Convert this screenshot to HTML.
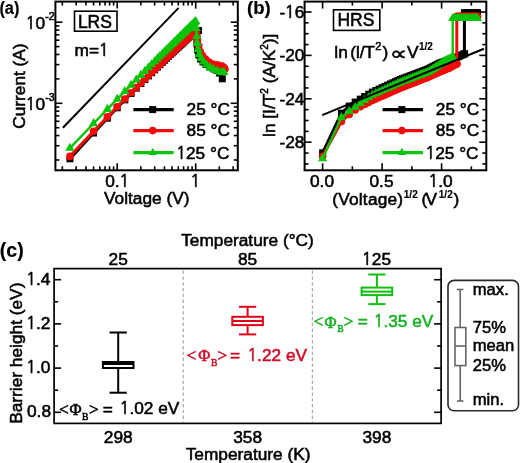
<!DOCTYPE html>
<html><head><meta charset="utf-8"><style>
html,body{margin:0;padding:0;background:#fff;overflow:hidden;}
svg{display:block;font-family:"Liberation Sans", Arial, sans-serif;filter:blur(0.4px);}
text{stroke:#000;stroke-width:0.55px;}
</style></head><body>
<svg width="520" height="463" viewBox="0 0 520 463">
<rect width="520" height="463" fill="#fff"/>
<line x1="62.9" y1="127.8" x2="178.6" y2="7.9" stroke="#000" stroke-width="2" />
<polyline points="69.94,158.8 93.57,133.02 107.39,118.18 117.2,107.81 124.81,99.88 131.02,93.49 136.28,88.13 140.83,83.54 144.85,79.51 148.44,75.94 151.69,72.73 154.65,69.81 157.38,67.14 159.91,64.67 162.26,62.39 164.46,60.26 166.53,58.26 168.48,56.39 170.32,54.61 172.07,52.94 173.73,51.35 175.32,49.83 176.83,48.38 178.28,47 179.68,45.68 181.01,44.41 182.3,43.18 183.54,42.01 184.74,40.87 185.89,39.78 187.01,38.72 188.09,37.69 189.14,36.7 190.16,35.74 191.15,34.8 192.11,33.9 193.04,33.01 193.95,32.15 194.84,31.32 195.7,30.5 198.5,30.5 197,38 197,44 197.6,50 198.8,55 200.6,59 203,62 206,64.5 210,67 214,69 217,70.5 219.5,73 222.3,78.8" fill="none" stroke="#000" stroke-width="3.0" stroke-linejoin="round"/>
<g><rect x="66.44" y="155.3" width="7" height="7" fill="#000"/><rect x="90.07" y="129.52" width="7" height="7" fill="#000"/><rect x="103.89" y="114.68" width="7" height="7" fill="#000"/><rect x="113.7" y="104.31" width="7" height="7" fill="#000"/><rect x="121.31" y="96.38" width="7" height="7" fill="#000"/><rect x="127.52" y="89.99" width="7" height="7" fill="#000"/><rect x="132.78" y="84.63" width="7" height="7" fill="#000"/><rect x="137.33" y="80.04" width="7" height="7" fill="#000"/><rect x="141.35" y="76.01" width="7" height="7" fill="#000"/><rect x="144.94" y="72.44" width="7" height="7" fill="#000"/><rect x="148.19" y="69.23" width="7" height="7" fill="#000"/><rect x="151.15" y="66.31" width="7" height="7" fill="#000"/><rect x="153.88" y="63.64" width="7" height="7" fill="#000"/><rect x="156.41" y="61.17" width="7" height="7" fill="#000"/><rect x="158.76" y="58.89" width="7" height="7" fill="#000"/><rect x="160.96" y="56.76" width="7" height="7" fill="#000"/><rect x="163.03" y="54.76" width="7" height="7" fill="#000"/><rect x="164.98" y="52.89" width="7" height="7" fill="#000"/><rect x="166.82" y="51.11" width="7" height="7" fill="#000"/><rect x="168.57" y="49.44" width="7" height="7" fill="#000"/><rect x="170.23" y="47.85" width="7" height="7" fill="#000"/><rect x="171.82" y="46.33" width="7" height="7" fill="#000"/><rect x="173.33" y="44.88" width="7" height="7" fill="#000"/><rect x="174.78" y="43.5" width="7" height="7" fill="#000"/><rect x="176.18" y="42.18" width="7" height="7" fill="#000"/><rect x="177.51" y="40.91" width="7" height="7" fill="#000"/><rect x="178.8" y="39.68" width="7" height="7" fill="#000"/><rect x="180.04" y="38.51" width="7" height="7" fill="#000"/><rect x="181.24" y="37.37" width="7" height="7" fill="#000"/><rect x="182.39" y="36.28" width="7" height="7" fill="#000"/><rect x="183.51" y="35.22" width="7" height="7" fill="#000"/><rect x="184.59" y="34.19" width="7" height="7" fill="#000"/><rect x="185.64" y="33.2" width="7" height="7" fill="#000"/><rect x="186.66" y="32.24" width="7" height="7" fill="#000"/><rect x="187.65" y="31.3" width="7" height="7" fill="#000"/><rect x="188.61" y="30.4" width="7" height="7" fill="#000"/><rect x="189.54" y="29.51" width="7" height="7" fill="#000"/><rect x="190.45" y="28.65" width="7" height="7" fill="#000"/><rect x="191.34" y="27.82" width="7" height="7" fill="#000"/><rect x="192.2" y="27" width="7" height="7" fill="#000"/><rect x="195" y="27" width="7" height="7" fill="#000"/><rect x="193.5" y="34.5" width="7" height="7" fill="#000"/><rect x="193.5" y="40.5" width="7" height="7" fill="#000"/><rect x="194.1" y="46.5" width="7" height="7" fill="#000"/><rect x="195.3" y="51.5" width="7" height="7" fill="#000"/><rect x="197.1" y="55.5" width="7" height="7" fill="#000"/><rect x="199.5" y="58.5" width="7" height="7" fill="#000"/><rect x="202.5" y="61" width="7" height="7" fill="#000"/><rect x="206.5" y="63.5" width="7" height="7" fill="#000"/><rect x="210.5" y="65.5" width="7" height="7" fill="#000"/><rect x="213.5" y="67" width="7" height="7" fill="#000"/><rect x="216" y="69.5" width="7" height="7" fill="#000"/><rect x="218.8" y="75.3" width="7" height="7" fill="#000"/></g>
<polyline points="69.94,156.4 93.57,131.35 107.39,116.89 117.2,106.77 124.81,99.02 131.02,92.75 136.28,87.5 140.83,82.98 144.85,79.02 148.44,75.5 151.69,72.33 154.65,69.45 157.38,66.82 159.91,64.38 162.26,62.12 164.46,60.01 166.53,58.04 168.48,56.18 170.32,54.43 172.07,52.77 173.73,51.19 175.32,49.69 176.83,48.25 178.28,46.88 179.68,45.57 181.01,44.31 182.3,43.09 183.54,41.93 184.74,40.8 185.89,39.71 187.01,38.66 188.09,37.64 189.14,36.66 190.16,35.7 191.15,34.77 192.11,33.87 193.04,32.99 193.95,32.14 194.84,31.31 195.7,30.5 196.6,34 197.5,40 198.8,46 200.3,51.5 202.5,55.5 205.5,59 209,62 212.5,64 216,64.8 219,65.2 222,66 224,67.5 225,69" fill="none" stroke="#f20a0a" stroke-width="3.0" stroke-linejoin="round"/>
<g><circle cx="69.94" cy="156.4" r="3.8" fill="#f20a0a"/><circle cx="93.57" cy="131.35" r="3.8" fill="#f20a0a"/><circle cx="107.39" cy="116.89" r="3.8" fill="#f20a0a"/><circle cx="117.2" cy="106.77" r="3.8" fill="#f20a0a"/><circle cx="124.81" cy="99.02" r="3.8" fill="#f20a0a"/><circle cx="131.02" cy="92.75" r="3.8" fill="#f20a0a"/><circle cx="136.28" cy="87.5" r="3.8" fill="#f20a0a"/><circle cx="140.83" cy="82.98" r="3.8" fill="#f20a0a"/><circle cx="144.85" cy="79.02" r="3.8" fill="#f20a0a"/><circle cx="148.44" cy="75.5" r="3.8" fill="#f20a0a"/><circle cx="151.69" cy="72.33" r="3.8" fill="#f20a0a"/><circle cx="154.65" cy="69.45" r="3.8" fill="#f20a0a"/><circle cx="157.38" cy="66.82" r="3.8" fill="#f20a0a"/><circle cx="159.91" cy="64.38" r="3.8" fill="#f20a0a"/><circle cx="162.26" cy="62.12" r="3.8" fill="#f20a0a"/><circle cx="164.46" cy="60.01" r="3.8" fill="#f20a0a"/><circle cx="166.53" cy="58.04" r="3.8" fill="#f20a0a"/><circle cx="168.48" cy="56.18" r="3.8" fill="#f20a0a"/><circle cx="170.32" cy="54.43" r="3.8" fill="#f20a0a"/><circle cx="172.07" cy="52.77" r="3.8" fill="#f20a0a"/><circle cx="173.73" cy="51.19" r="3.8" fill="#f20a0a"/><circle cx="175.32" cy="49.69" r="3.8" fill="#f20a0a"/><circle cx="176.83" cy="48.25" r="3.8" fill="#f20a0a"/><circle cx="178.28" cy="46.88" r="3.8" fill="#f20a0a"/><circle cx="179.68" cy="45.57" r="3.8" fill="#f20a0a"/><circle cx="181.01" cy="44.31" r="3.8" fill="#f20a0a"/><circle cx="182.3" cy="43.09" r="3.8" fill="#f20a0a"/><circle cx="183.54" cy="41.93" r="3.8" fill="#f20a0a"/><circle cx="184.74" cy="40.8" r="3.8" fill="#f20a0a"/><circle cx="185.89" cy="39.71" r="3.8" fill="#f20a0a"/><circle cx="187.01" cy="38.66" r="3.8" fill="#f20a0a"/><circle cx="188.09" cy="37.64" r="3.8" fill="#f20a0a"/><circle cx="189.14" cy="36.66" r="3.8" fill="#f20a0a"/><circle cx="190.16" cy="35.7" r="3.8" fill="#f20a0a"/><circle cx="191.15" cy="34.77" r="3.8" fill="#f20a0a"/><circle cx="192.11" cy="33.87" r="3.8" fill="#f20a0a"/><circle cx="193.04" cy="32.99" r="3.8" fill="#f20a0a"/><circle cx="193.95" cy="32.14" r="3.8" fill="#f20a0a"/><circle cx="194.84" cy="31.31" r="3.8" fill="#f20a0a"/><circle cx="195.7" cy="30.5" r="3.8" fill="#f20a0a"/><circle cx="196.6" cy="34" r="3.8" fill="#f20a0a"/><circle cx="197.5" cy="40" r="3.8" fill="#f20a0a"/><circle cx="198.8" cy="46" r="3.8" fill="#f20a0a"/><circle cx="200.3" cy="51.5" r="3.8" fill="#f20a0a"/><circle cx="202.5" cy="55.5" r="3.8" fill="#f20a0a"/><circle cx="205.5" cy="59" r="3.8" fill="#f20a0a"/><circle cx="209" cy="62" r="3.8" fill="#f20a0a"/><circle cx="212.5" cy="64" r="3.8" fill="#f20a0a"/><circle cx="216" cy="64.8" r="3.8" fill="#f20a0a"/><circle cx="219" cy="65.2" r="3.8" fill="#f20a0a"/><circle cx="222" cy="66" r="3.8" fill="#f20a0a"/><circle cx="224" cy="67.5" r="3.8" fill="#f20a0a"/><circle cx="225" cy="69" r="3.8" fill="#f20a0a"/></g>
<polyline points="69.94,148.15 93.57,123.49 107.39,109.18 117.2,99.11 124.81,91.36 131.02,85.06 136.28,79.77 140.83,75.2 144.85,71.19 148.44,67.61 151.69,64.39 154.65,61.45 157.38,58.76 159.91,56.27 162.26,53.95 164.46,51.79 166.53,49.76 168.48,47.85 170.32,46.05 172.07,44.34 173.73,42.72 175.32,41.17 176.83,39.69 178.28,38.28 179.68,36.92 181.01,35.62 182.3,34.37 183.54,33.16 184.74,32 185.89,30.87 187.01,29.79 188.09,28.74 189.14,27.72 190.16,26.73 191.15,25.77 192.11,24.84 193.04,23.93 193.95,23.05 194.84,22.19 195.7,21.35 196.2,28.35 196.7,36.35 197.2,43.35 198,49.35 199.3,54.35 201,58.35 203.5,61.85 206.5,64.85 210,67.35 213.5,69.35 217,70.85 220,72.05 222.5,72.55 224,72.35" fill="none" stroke="#0ac40a" stroke-width="2.4" stroke-linejoin="round"/>
<g><polygon points="69.94,142.75 65.34,150.85 74.54,150.85" fill="#0ac40a"/><polygon points="93.57,118.09 88.97,126.19 98.17,126.19" fill="#0ac40a"/><polygon points="107.39,103.78 102.79,111.88 111.99,111.88" fill="#0ac40a"/><polygon points="117.2,93.71 112.6,101.81 121.8,101.81" fill="#0ac40a"/><polygon points="124.81,85.96 120.21,94.06 129.41,94.06" fill="#0ac40a"/><polygon points="131.02,79.66 126.42,87.76 135.62,87.76" fill="#0ac40a"/><polygon points="136.28,74.37 131.68,82.47 140.88,82.47" fill="#0ac40a"/><polygon points="140.83,69.8 136.23,77.9 145.43,77.9" fill="#0ac40a"/><polygon points="144.85,65.79 140.25,73.89 149.45,73.89" fill="#0ac40a"/><polygon points="148.44,62.21 143.84,70.31 153.04,70.31" fill="#0ac40a"/><polygon points="151.69,58.99 147.09,67.09 156.29,67.09" fill="#0ac40a"/><polygon points="154.65,56.05 150.05,64.15 159.25,64.15" fill="#0ac40a"/><polygon points="157.38,53.36 152.78,61.46 161.98,61.46" fill="#0ac40a"/><polygon points="159.91,50.87 155.31,58.97 164.51,58.97" fill="#0ac40a"/><polygon points="162.26,48.55 157.66,56.65 166.86,56.65" fill="#0ac40a"/><polygon points="164.46,46.39 159.86,54.49 169.06,54.49" fill="#0ac40a"/><polygon points="166.53,44.36 161.93,52.46 171.13,52.46" fill="#0ac40a"/><polygon points="168.48,42.45 163.88,50.55 173.08,50.55" fill="#0ac40a"/><polygon points="170.32,40.65 165.72,48.75 174.92,48.75" fill="#0ac40a"/><polygon points="172.07,38.94 167.47,47.04 176.67,47.04" fill="#0ac40a"/><polygon points="173.73,37.32 169.13,45.42 178.33,45.42" fill="#0ac40a"/><polygon points="175.32,35.77 170.72,43.87 179.92,43.87" fill="#0ac40a"/><polygon points="176.83,34.29 172.23,42.39 181.43,42.39" fill="#0ac40a"/><polygon points="178.28,32.88 173.68,40.98 182.88,40.98" fill="#0ac40a"/><polygon points="179.68,31.52 175.08,39.62 184.28,39.62" fill="#0ac40a"/><polygon points="181.01,30.22 176.41,38.32 185.61,38.32" fill="#0ac40a"/><polygon points="182.3,28.97 177.7,37.07 186.9,37.07" fill="#0ac40a"/><polygon points="183.54,27.76 178.94,35.86 188.14,35.86" fill="#0ac40a"/><polygon points="184.74,26.6 180.14,34.7 189.34,34.7" fill="#0ac40a"/><polygon points="185.89,25.47 181.29,33.57 190.49,33.57" fill="#0ac40a"/><polygon points="187.01,24.39 182.41,32.49 191.61,32.49" fill="#0ac40a"/><polygon points="188.09,23.34 183.49,31.44 192.69,31.44" fill="#0ac40a"/><polygon points="189.14,22.32 184.54,30.42 193.74,30.42" fill="#0ac40a"/><polygon points="190.16,21.33 185.56,29.43 194.76,29.43" fill="#0ac40a"/><polygon points="191.15,20.37 186.55,28.47 195.75,28.47" fill="#0ac40a"/><polygon points="192.11,19.44 187.51,27.54 196.71,27.54" fill="#0ac40a"/><polygon points="193.04,18.53 188.44,26.63 197.64,26.63" fill="#0ac40a"/><polygon points="193.95,17.65 189.35,25.75 198.55,25.75" fill="#0ac40a"/><polygon points="194.84,16.79 190.24,24.89 199.44,24.89" fill="#0ac40a"/><polygon points="195.7,15.95 191.1,24.05 200.3,24.05" fill="#0ac40a"/><polygon points="196.2,22.95 191.6,31.05 200.8,31.05" fill="#0ac40a"/><polygon points="196.7,30.95 192.1,39.05 201.3,39.05" fill="#0ac40a"/><polygon points="197.2,37.95 192.6,46.05 201.8,46.05" fill="#0ac40a"/><polygon points="198,43.95 193.4,52.05 202.6,52.05" fill="#0ac40a"/><polygon points="199.3,48.95 194.7,57.05 203.9,57.05" fill="#0ac40a"/><polygon points="201,52.95 196.4,61.05 205.6,61.05" fill="#0ac40a"/><polygon points="203.5,56.45 198.9,64.55 208.1,64.55" fill="#0ac40a"/><polygon points="206.5,59.45 201.9,67.55 211.1,67.55" fill="#0ac40a"/><polygon points="210,61.95 205.4,70.05 214.6,70.05" fill="#0ac40a"/><polygon points="213.5,63.95 208.9,72.05 218.1,72.05" fill="#0ac40a"/><polygon points="217,65.45 212.4,73.55 221.6,73.55" fill="#0ac40a"/><polygon points="220,66.65 215.4,74.75 224.6,74.75" fill="#0ac40a"/><polygon points="222.5,67.15 217.9,75.25 227.1,75.25" fill="#0ac40a"/><polygon points="224,66.95 219.4,75.05 228.6,75.05" fill="#0ac40a"/></g>
<rect x="190" y="0" width="60" height="0.6" fill="#fff"/>
<rect x="55.4" y="1.6" width="182.4" height="168.7" fill="none" stroke="#000" stroke-width="2"/>
<line x1="117.2" y1="170.3" x2="117.2" y2="163.3" stroke="#000" stroke-width="1.6" />
<line x1="117.2" y1="1.6" x2="117.2" y2="8.6" stroke="#000" stroke-width="1.6" />
<line x1="195.7" y1="170.3" x2="195.7" y2="163.3" stroke="#000" stroke-width="1.6" />
<line x1="195.7" y1="1.6" x2="195.7" y2="8.6" stroke="#000" stroke-width="1.6" />
<line x1="62.33" y1="170.3" x2="62.33" y2="166.3" stroke="#000" stroke-width="1.6" />
<line x1="62.33" y1="1.6" x2="62.33" y2="5.6" stroke="#000" stroke-width="1.6" />
<line x1="76.15" y1="170.3" x2="76.15" y2="166.3" stroke="#000" stroke-width="1.6" />
<line x1="76.15" y1="1.6" x2="76.15" y2="5.6" stroke="#000" stroke-width="1.6" />
<line x1="85.96" y1="170.3" x2="85.96" y2="166.3" stroke="#000" stroke-width="1.6" />
<line x1="85.96" y1="1.6" x2="85.96" y2="5.6" stroke="#000" stroke-width="1.6" />
<line x1="93.57" y1="170.3" x2="93.57" y2="166.3" stroke="#000" stroke-width="1.6" />
<line x1="93.57" y1="1.6" x2="93.57" y2="5.6" stroke="#000" stroke-width="1.6" />
<line x1="99.78" y1="170.3" x2="99.78" y2="166.3" stroke="#000" stroke-width="1.6" />
<line x1="99.78" y1="1.6" x2="99.78" y2="5.6" stroke="#000" stroke-width="1.6" />
<line x1="105.04" y1="170.3" x2="105.04" y2="166.3" stroke="#000" stroke-width="1.6" />
<line x1="105.04" y1="1.6" x2="105.04" y2="5.6" stroke="#000" stroke-width="1.6" />
<line x1="109.59" y1="170.3" x2="109.59" y2="166.3" stroke="#000" stroke-width="1.6" />
<line x1="109.59" y1="1.6" x2="109.59" y2="5.6" stroke="#000" stroke-width="1.6" />
<line x1="113.61" y1="170.3" x2="113.61" y2="166.3" stroke="#000" stroke-width="1.6" />
<line x1="113.61" y1="1.6" x2="113.61" y2="5.6" stroke="#000" stroke-width="1.6" />
<line x1="140.83" y1="170.3" x2="140.83" y2="166.3" stroke="#000" stroke-width="1.6" />
<line x1="140.83" y1="1.6" x2="140.83" y2="5.6" stroke="#000" stroke-width="1.6" />
<line x1="154.65" y1="170.3" x2="154.65" y2="166.3" stroke="#000" stroke-width="1.6" />
<line x1="154.65" y1="1.6" x2="154.65" y2="5.6" stroke="#000" stroke-width="1.6" />
<line x1="164.46" y1="170.3" x2="164.46" y2="166.3" stroke="#000" stroke-width="1.6" />
<line x1="164.46" y1="1.6" x2="164.46" y2="5.6" stroke="#000" stroke-width="1.6" />
<line x1="172.07" y1="170.3" x2="172.07" y2="166.3" stroke="#000" stroke-width="1.6" />
<line x1="172.07" y1="1.6" x2="172.07" y2="5.6" stroke="#000" stroke-width="1.6" />
<line x1="178.28" y1="170.3" x2="178.28" y2="166.3" stroke="#000" stroke-width="1.6" />
<line x1="178.28" y1="1.6" x2="178.28" y2="5.6" stroke="#000" stroke-width="1.6" />
<line x1="183.54" y1="170.3" x2="183.54" y2="166.3" stroke="#000" stroke-width="1.6" />
<line x1="183.54" y1="1.6" x2="183.54" y2="5.6" stroke="#000" stroke-width="1.6" />
<line x1="188.09" y1="170.3" x2="188.09" y2="166.3" stroke="#000" stroke-width="1.6" />
<line x1="188.09" y1="1.6" x2="188.09" y2="5.6" stroke="#000" stroke-width="1.6" />
<line x1="192.11" y1="170.3" x2="192.11" y2="166.3" stroke="#000" stroke-width="1.6" />
<line x1="192.11" y1="1.6" x2="192.11" y2="5.6" stroke="#000" stroke-width="1.6" />
<line x1="219.33" y1="170.3" x2="219.33" y2="166.3" stroke="#000" stroke-width="1.6" />
<line x1="219.33" y1="1.6" x2="219.33" y2="5.6" stroke="#000" stroke-width="1.6" />
<line x1="233.15" y1="170.3" x2="233.15" y2="166.3" stroke="#000" stroke-width="1.6" />
<line x1="233.15" y1="1.6" x2="233.15" y2="5.6" stroke="#000" stroke-width="1.6" />
<line x1="55.4" y1="103.3" x2="62.4" y2="103.3" stroke="#000" stroke-width="1.6" />
<line x1="237.8" y1="103.3" x2="230.8" y2="103.3" stroke="#000" stroke-width="1.6" />
<line x1="55.4" y1="22.2" x2="62.4" y2="22.2" stroke="#000" stroke-width="1.6" />
<line x1="237.8" y1="22.2" x2="230.8" y2="22.2" stroke="#000" stroke-width="1.6" />
<line x1="55.4" y1="159.99" x2="59.4" y2="159.99" stroke="#000" stroke-width="1.6" />
<line x1="237.8" y1="159.99" x2="233.8" y2="159.99" stroke="#000" stroke-width="1.6" />
<line x1="55.4" y1="145.71" x2="59.4" y2="145.71" stroke="#000" stroke-width="1.6" />
<line x1="237.8" y1="145.71" x2="233.8" y2="145.71" stroke="#000" stroke-width="1.6" />
<line x1="55.4" y1="135.57" x2="59.4" y2="135.57" stroke="#000" stroke-width="1.6" />
<line x1="237.8" y1="135.57" x2="233.8" y2="135.57" stroke="#000" stroke-width="1.6" />
<line x1="55.4" y1="127.71" x2="59.4" y2="127.71" stroke="#000" stroke-width="1.6" />
<line x1="237.8" y1="127.71" x2="233.8" y2="127.71" stroke="#000" stroke-width="1.6" />
<line x1="55.4" y1="121.29" x2="59.4" y2="121.29" stroke="#000" stroke-width="1.6" />
<line x1="237.8" y1="121.29" x2="233.8" y2="121.29" stroke="#000" stroke-width="1.6" />
<line x1="55.4" y1="115.86" x2="59.4" y2="115.86" stroke="#000" stroke-width="1.6" />
<line x1="237.8" y1="115.86" x2="233.8" y2="115.86" stroke="#000" stroke-width="1.6" />
<line x1="55.4" y1="111.16" x2="59.4" y2="111.16" stroke="#000" stroke-width="1.6" />
<line x1="237.8" y1="111.16" x2="233.8" y2="111.16" stroke="#000" stroke-width="1.6" />
<line x1="55.4" y1="107.01" x2="59.4" y2="107.01" stroke="#000" stroke-width="1.6" />
<line x1="237.8" y1="107.01" x2="233.8" y2="107.01" stroke="#000" stroke-width="1.6" />
<line x1="55.4" y1="78.89" x2="59.4" y2="78.89" stroke="#000" stroke-width="1.6" />
<line x1="237.8" y1="78.89" x2="233.8" y2="78.89" stroke="#000" stroke-width="1.6" />
<line x1="55.4" y1="64.61" x2="59.4" y2="64.61" stroke="#000" stroke-width="1.6" />
<line x1="237.8" y1="64.61" x2="233.8" y2="64.61" stroke="#000" stroke-width="1.6" />
<line x1="55.4" y1="54.47" x2="59.4" y2="54.47" stroke="#000" stroke-width="1.6" />
<line x1="237.8" y1="54.47" x2="233.8" y2="54.47" stroke="#000" stroke-width="1.6" />
<line x1="55.4" y1="46.61" x2="59.4" y2="46.61" stroke="#000" stroke-width="1.6" />
<line x1="237.8" y1="46.61" x2="233.8" y2="46.61" stroke="#000" stroke-width="1.6" />
<line x1="55.4" y1="40.19" x2="59.4" y2="40.19" stroke="#000" stroke-width="1.6" />
<line x1="237.8" y1="40.19" x2="233.8" y2="40.19" stroke="#000" stroke-width="1.6" />
<line x1="55.4" y1="34.76" x2="59.4" y2="34.76" stroke="#000" stroke-width="1.6" />
<line x1="237.8" y1="34.76" x2="233.8" y2="34.76" stroke="#000" stroke-width="1.6" />
<line x1="55.4" y1="30.06" x2="59.4" y2="30.06" stroke="#000" stroke-width="1.6" />
<line x1="237.8" y1="30.06" x2="233.8" y2="30.06" stroke="#000" stroke-width="1.6" />
<line x1="55.4" y1="25.91" x2="59.4" y2="25.91" stroke="#000" stroke-width="1.6" />
<line x1="237.8" y1="25.91" x2="233.8" y2="25.91" stroke="#000" stroke-width="1.6" />
<text transform="translate(-0.6,14) scale(0.86,1)" font-size="19" font-weight="bold" style="stroke-width:0.2px">(a)</text>
<text x="45.8" y="28.8" font-size="17.3" text-anchor="end"><tspan font-family="NanumGothic, &quot;Liberation Sans&quot;, sans-serif" dx="-0.6" letter-spacing="-0.26">1</tspan>0</text>
<text x="45.2" y="19.5" font-size="10.5">-2</text>
<text x="45.8" y="109.9" font-size="17.3" text-anchor="end"><tspan font-family="NanumGothic, &quot;Liberation Sans&quot;, sans-serif" dx="-0.6" letter-spacing="-0.26">1</tspan>0</text>
<text x="45.2" y="100.6" font-size="10.5">-3</text>
<text x="117.2" y="187" font-size="17.3" text-anchor="middle" >0.<tspan font-family="NanumGothic, &quot;Liberation Sans&quot;, sans-serif" dx="-0.6" letter-spacing="-0.26">1</tspan></text>
<text x="195.7" y="187" font-size="17.3" text-anchor="middle" ><tspan font-family="NanumGothic, &quot;Liberation Sans&quot;, sans-serif" dx="-0.6" letter-spacing="-0.26">1</tspan></text>
<text x="146.8" y="204.2" font-size="17.3" text-anchor="middle" >Voltage (V)</text>
<text transform="translate(24.6,86.1) rotate(-90)" font-size="17.3" text-anchor="middle">Current (A)</text>
<rect x="74.5" y="11.2" width="42.5" height="20" fill="none" stroke="#000" stroke-width="1.6"/>
<text x="77.9" y="27.7" font-size="17.5" text-anchor="start" >LRS</text>
<text x="74.5" y="56.3" font-size="17.3" text-anchor="start" >m=<tspan font-family="NanumGothic, &quot;Liberation Sans&quot;, sans-serif" dx="-0.6" letter-spacing="-0.26">1</tspan></text>
<line x1="133.4" y1="109.6" x2="173.7" y2="109.6" stroke="#000" stroke-width="3.2" />
<rect x="149.2" y="106.1" width="7" height="7" fill="#000"/>
<text x="230" y="115.2" font-size="17.3" text-anchor="end" >25 °C</text>
<line x1="133.4" y1="130.6" x2="173.7" y2="130.6" stroke="#f20a0a" stroke-width="3.2" />
<circle cx="152.7" cy="130.6" r="3.8" fill="#f20a0a"/>
<text x="230" y="136.2" font-size="17.3" text-anchor="end" >85 °C</text>
<line x1="133.4" y1="152.6" x2="173.7" y2="152.6" stroke="#0ac40a" stroke-width="3.2" />
<polygon points="152.7,147.8 148.6,155 156.8,155" fill="#0ac40a"/>
<text x="230" y="158.7" font-size="17.3" text-anchor="end" ><tspan font-family="NanumGothic, &quot;Liberation Sans&quot;, sans-serif" dx="-0.6" letter-spacing="-0.26">1</tspan>25 °C</text>
<polyline points="322.6,152.8 341.42,113.21 349.21,106.07 355.19,102.08 360.23,99.14 364.67,96.55 368.69,94.21 372.38,92.11 375.82,90.55 379.05,89.09 382.1,87.71 385,86.39 387.78,85.14 390.44,83.93 393,82.77 395.47,81.65 397.86,80.57 400.18,79.54 402.43,78.69 404.62,77.87 406.75,77.08 408.82,76.3 410.85,75.54 412.84,74.8 414.78,74.07 416.68,73.36 418.54,72.66 420.37,71.98 422.16,71.31 423.92,70.65 425.66,70 427.36,69.36 429.04,68.59 430.69,67.75 432.31,66.92 433.91,66.11 435.49,65.3 437.05,64.51 438.59,63.72 440.1,62.97 441.6,62.48 443.08,62.01 444.54,61.53 445.98,61.07 447.41,60.61 448.82,60.15 450.21,59.7 451.59,59.25 452.96,58.81 454.31,58.38 455.65,57.85 456.97,57.23 458.28,56.62 459.58,56.02 460.87,55.42 462.14,54.83 463.4,54.24 464.65,53.69 464.4,53.8 464.4,12.7 465.9,12.7 467.4,12.7 468.9,12.7 470.4,12.7 471.9,12.7 473.4,12.7 474.9,12.7 476.4,12.7 477.5,12.7" fill="none" stroke="#000" stroke-width="3.0" stroke-linejoin="round"/>
<g><rect x="319.1" y="149.3" width="7" height="7" fill="#000"/><rect x="337.92" y="109.71" width="7" height="7" fill="#000"/><rect x="345.71" y="102.57" width="7" height="7" fill="#000"/><rect x="351.69" y="98.58" width="7" height="7" fill="#000"/><rect x="356.73" y="95.64" width="7" height="7" fill="#000"/><rect x="361.17" y="93.05" width="7" height="7" fill="#000"/><rect x="365.19" y="90.71" width="7" height="7" fill="#000"/><rect x="368.88" y="88.61" width="7" height="7" fill="#000"/><rect x="372.32" y="87.05" width="7" height="7" fill="#000"/><rect x="375.55" y="85.59" width="7" height="7" fill="#000"/><rect x="378.6" y="84.21" width="7" height="7" fill="#000"/><rect x="381.5" y="82.89" width="7" height="7" fill="#000"/><rect x="384.28" y="81.64" width="7" height="7" fill="#000"/><rect x="386.94" y="80.43" width="7" height="7" fill="#000"/><rect x="389.5" y="79.27" width="7" height="7" fill="#000"/><rect x="391.97" y="78.15" width="7" height="7" fill="#000"/><rect x="394.36" y="77.07" width="7" height="7" fill="#000"/><rect x="396.68" y="76.04" width="7" height="7" fill="#000"/><rect x="398.93" y="75.19" width="7" height="7" fill="#000"/><rect x="401.12" y="74.37" width="7" height="7" fill="#000"/><rect x="403.25" y="73.58" width="7" height="7" fill="#000"/><rect x="405.32" y="72.8" width="7" height="7" fill="#000"/><rect x="407.35" y="72.04" width="7" height="7" fill="#000"/><rect x="409.34" y="71.3" width="7" height="7" fill="#000"/><rect x="411.28" y="70.57" width="7" height="7" fill="#000"/><rect x="413.18" y="69.86" width="7" height="7" fill="#000"/><rect x="415.04" y="69.16" width="7" height="7" fill="#000"/><rect x="416.87" y="68.48" width="7" height="7" fill="#000"/><rect x="418.66" y="67.81" width="7" height="7" fill="#000"/><rect x="420.42" y="67.15" width="7" height="7" fill="#000"/><rect x="422.16" y="66.5" width="7" height="7" fill="#000"/><rect x="423.86" y="65.86" width="7" height="7" fill="#000"/><rect x="425.54" y="65.09" width="7" height="7" fill="#000"/><rect x="427.19" y="64.25" width="7" height="7" fill="#000"/><rect x="428.81" y="63.42" width="7" height="7" fill="#000"/><rect x="430.41" y="62.61" width="7" height="7" fill="#000"/><rect x="431.99" y="61.8" width="7" height="7" fill="#000"/><rect x="433.55" y="61.01" width="7" height="7" fill="#000"/><rect x="435.09" y="60.22" width="7" height="7" fill="#000"/><rect x="436.6" y="59.47" width="7" height="7" fill="#000"/><rect x="438.1" y="58.98" width="7" height="7" fill="#000"/><rect x="439.58" y="58.51" width="7" height="7" fill="#000"/><rect x="441.04" y="58.03" width="7" height="7" fill="#000"/><rect x="442.48" y="57.57" width="7" height="7" fill="#000"/><rect x="443.91" y="57.11" width="7" height="7" fill="#000"/><rect x="445.32" y="56.65" width="7" height="7" fill="#000"/><rect x="446.71" y="56.2" width="7" height="7" fill="#000"/><rect x="448.09" y="55.75" width="7" height="7" fill="#000"/><rect x="449.46" y="55.31" width="7" height="7" fill="#000"/><rect x="450.81" y="54.88" width="7" height="7" fill="#000"/><rect x="452.15" y="54.35" width="7" height="7" fill="#000"/><rect x="453.47" y="53.73" width="7" height="7" fill="#000"/><rect x="454.78" y="53.12" width="7" height="7" fill="#000"/><rect x="456.08" y="52.52" width="7" height="7" fill="#000"/><rect x="457.37" y="51.92" width="7" height="7" fill="#000"/><rect x="458.64" y="51.33" width="7" height="7" fill="#000"/><rect x="459.9" y="50.74" width="7" height="7" fill="#000"/><rect x="461.15" y="50.19" width="7" height="7" fill="#000"/><rect x="460.9" y="50.3" width="7" height="7" fill="#000"/><rect x="460.9" y="9.2" width="7" height="7" fill="#000"/><rect x="462.4" y="9.2" width="7" height="7" fill="#000"/><rect x="463.9" y="9.2" width="7" height="7" fill="#000"/><rect x="465.4" y="9.2" width="7" height="7" fill="#000"/><rect x="466.9" y="9.2" width="7" height="7" fill="#000"/><rect x="468.4" y="9.2" width="7" height="7" fill="#000"/><rect x="469.9" y="9.2" width="7" height="7" fill="#000"/><rect x="471.4" y="9.2" width="7" height="7" fill="#000"/><rect x="472.9" y="9.2" width="7" height="7" fill="#000"/><rect x="474" y="9.2" width="7" height="7" fill="#000"/></g>
<polyline points="322.6,156.2 341.42,121.51 349.21,114.57 355.19,109.98 360.23,106.7 364.67,104.43 368.69,102.38 372.38,100.51 375.82,98.98 379.05,97.54 382.1,96.18 385,94.89 387.78,93.65 390.44,92.46 393,91.32 395.47,90.22 397.86,89.15 400.18,88.13 402.43,87.25 404.62,86.39 406.75,85.56 408.82,84.74 410.85,83.95 412.84,83.17 414.78,82.41 416.68,81.66 418.54,80.93 420.37,80.21 422.16,79.51 423.92,78.82 425.66,78.14 427.36,77.47 429.04,76.75 430.69,76.01 432.31,75.27 433.91,74.55 435.49,73.84 437.05,73.13 438.59,72.44 440.1,71.76 441.6,71.15 443.08,70.54 444.54,69.94 445.98,69.35 447.41,68.76 448.82,68.19 450.21,67.58 451.59,66.82 452.96,66.07 454.31,65.32 455.65,64.58 456.97,63.85 456.8,63.94 456.8,16.4 458.3,16.4 459.8,16.4 461.3,16.4 462.8,16.4 464.3,16.4 465.8,16.4 467.3,16.4 468.8,16.4 470.3,16.4 471.8,16.4 473.3,16.4 474.8,16.4 476.3,16.4 477.5,16.4" fill="none" stroke="#f20a0a" stroke-width="3.0" stroke-linejoin="round"/>
<g><circle cx="322.6" cy="156.2" r="3.8" fill="#f20a0a"/><circle cx="341.42" cy="121.51" r="3.8" fill="#f20a0a"/><circle cx="349.21" cy="114.57" r="3.8" fill="#f20a0a"/><circle cx="355.19" cy="109.98" r="3.8" fill="#f20a0a"/><circle cx="360.23" cy="106.7" r="3.8" fill="#f20a0a"/><circle cx="364.67" cy="104.43" r="3.8" fill="#f20a0a"/><circle cx="368.69" cy="102.38" r="3.8" fill="#f20a0a"/><circle cx="372.38" cy="100.51" r="3.8" fill="#f20a0a"/><circle cx="375.82" cy="98.98" r="3.8" fill="#f20a0a"/><circle cx="379.05" cy="97.54" r="3.8" fill="#f20a0a"/><circle cx="382.1" cy="96.18" r="3.8" fill="#f20a0a"/><circle cx="385" cy="94.89" r="3.8" fill="#f20a0a"/><circle cx="387.78" cy="93.65" r="3.8" fill="#f20a0a"/><circle cx="390.44" cy="92.46" r="3.8" fill="#f20a0a"/><circle cx="393" cy="91.32" r="3.8" fill="#f20a0a"/><circle cx="395.47" cy="90.22" r="3.8" fill="#f20a0a"/><circle cx="397.86" cy="89.15" r="3.8" fill="#f20a0a"/><circle cx="400.18" cy="88.13" r="3.8" fill="#f20a0a"/><circle cx="402.43" cy="87.25" r="3.8" fill="#f20a0a"/><circle cx="404.62" cy="86.39" r="3.8" fill="#f20a0a"/><circle cx="406.75" cy="85.56" r="3.8" fill="#f20a0a"/><circle cx="408.82" cy="84.74" r="3.8" fill="#f20a0a"/><circle cx="410.85" cy="83.95" r="3.8" fill="#f20a0a"/><circle cx="412.84" cy="83.17" r="3.8" fill="#f20a0a"/><circle cx="414.78" cy="82.41" r="3.8" fill="#f20a0a"/><circle cx="416.68" cy="81.66" r="3.8" fill="#f20a0a"/><circle cx="418.54" cy="80.93" r="3.8" fill="#f20a0a"/><circle cx="420.37" cy="80.21" r="3.8" fill="#f20a0a"/><circle cx="422.16" cy="79.51" r="3.8" fill="#f20a0a"/><circle cx="423.92" cy="78.82" r="3.8" fill="#f20a0a"/><circle cx="425.66" cy="78.14" r="3.8" fill="#f20a0a"/><circle cx="427.36" cy="77.47" r="3.8" fill="#f20a0a"/><circle cx="429.04" cy="76.75" r="3.8" fill="#f20a0a"/><circle cx="430.69" cy="76.01" r="3.8" fill="#f20a0a"/><circle cx="432.31" cy="75.27" r="3.8" fill="#f20a0a"/><circle cx="433.91" cy="74.55" r="3.8" fill="#f20a0a"/><circle cx="435.49" cy="73.84" r="3.8" fill="#f20a0a"/><circle cx="437.05" cy="73.13" r="3.8" fill="#f20a0a"/><circle cx="438.59" cy="72.44" r="3.8" fill="#f20a0a"/><circle cx="440.1" cy="71.76" r="3.8" fill="#f20a0a"/><circle cx="441.6" cy="71.15" r="3.8" fill="#f20a0a"/><circle cx="443.08" cy="70.54" r="3.8" fill="#f20a0a"/><circle cx="444.54" cy="69.94" r="3.8" fill="#f20a0a"/><circle cx="445.98" cy="69.35" r="3.8" fill="#f20a0a"/><circle cx="447.41" cy="68.76" r="3.8" fill="#f20a0a"/><circle cx="448.82" cy="68.19" r="3.8" fill="#f20a0a"/><circle cx="450.21" cy="67.58" r="3.8" fill="#f20a0a"/><circle cx="451.59" cy="66.82" r="3.8" fill="#f20a0a"/><circle cx="452.96" cy="66.07" r="3.8" fill="#f20a0a"/><circle cx="454.31" cy="65.32" r="3.8" fill="#f20a0a"/><circle cx="455.65" cy="64.58" r="3.8" fill="#f20a0a"/><circle cx="456.97" cy="63.85" r="3.8" fill="#f20a0a"/><circle cx="456.8" cy="63.94" r="3.8" fill="#f20a0a"/><circle cx="456.8" cy="16.4" r="3.8" fill="#f20a0a"/><circle cx="458.3" cy="16.4" r="3.8" fill="#f20a0a"/><circle cx="459.8" cy="16.4" r="3.8" fill="#f20a0a"/><circle cx="461.3" cy="16.4" r="3.8" fill="#f20a0a"/><circle cx="462.8" cy="16.4" r="3.8" fill="#f20a0a"/><circle cx="464.3" cy="16.4" r="3.8" fill="#f20a0a"/><circle cx="465.8" cy="16.4" r="3.8" fill="#f20a0a"/><circle cx="467.3" cy="16.4" r="3.8" fill="#f20a0a"/><circle cx="468.8" cy="16.4" r="3.8" fill="#f20a0a"/><circle cx="470.3" cy="16.4" r="3.8" fill="#f20a0a"/><circle cx="471.8" cy="16.4" r="3.8" fill="#f20a0a"/><circle cx="473.3" cy="16.4" r="3.8" fill="#f20a0a"/><circle cx="474.8" cy="16.4" r="3.8" fill="#f20a0a"/><circle cx="476.3" cy="16.4" r="3.8" fill="#f20a0a"/><circle cx="477.5" cy="16.4" r="3.8" fill="#f20a0a"/></g>
<polyline points="322.6,158.55 341.42,117.37 349.21,111.41 355.19,107.33 360.23,103.61 364.67,100.34 368.69,97.54 372.38,95.06 375.82,93.5 379.05,92.04 382.1,90.66 385,89.34 387.78,88.09 390.44,86.88 393,85.72 395.47,84.6 397.86,83.52 400.18,82.49 402.43,81.64 404.62,80.82 406.75,80.03 408.82,79.25 410.85,78.49 412.84,77.75 414.78,77.02 416.68,76.31 418.54,75.61 420.37,74.93 422.16,74.26 423.92,73.6 425.66,72.95 427.36,72.31 429.04,71.44 430.69,70.43 432.31,69.44 433.91,68.46 435.49,67.5 437.05,66.55 438.59,65.56 440.1,64.51 441.6,63.47 443.08,62.44 444.54,61.42 445.98,60.63 447.41,59.96 448.82,59.29 450.21,58.62 451.59,57.97 452.96,57.34 452.7,57.45 452.7,18.35 454.2,18.35 455.7,18.35 457.2,18.35 458.7,18.35 460.2,18.35 461.7,18.35 463.2,18.35 464.7,18.35 466.2,18.35 467.7,18.35 469.2,18.35 470.7,18.35 472.2,18.35 473.7,18.35 475.2,18.35 476.7,18.35 477.5,18.35" fill="none" stroke="#0ac40a" stroke-width="2.4" stroke-linejoin="round"/>
<g><polygon points="322.6,153.15 318,161.25 327.2,161.25" fill="#0ac40a"/><polygon points="341.42,111.97 336.82,120.07 346.02,120.07" fill="#0ac40a"/><polygon points="349.21,106.01 344.61,114.11 353.81,114.11" fill="#0ac40a"/><polygon points="355.19,101.93 350.59,110.03 359.79,110.03" fill="#0ac40a"/><polygon points="360.23,98.21 355.63,106.31 364.83,106.31" fill="#0ac40a"/><polygon points="364.67,94.94 360.07,103.04 369.27,103.04" fill="#0ac40a"/><polygon points="368.69,92.14 364.09,100.24 373.29,100.24" fill="#0ac40a"/><polygon points="372.38,89.66 367.78,97.76 376.98,97.76" fill="#0ac40a"/><polygon points="375.82,88.1 371.22,96.2 380.42,96.2" fill="#0ac40a"/><polygon points="379.05,86.64 374.45,94.74 383.65,94.74" fill="#0ac40a"/><polygon points="382.1,85.26 377.5,93.36 386.7,93.36" fill="#0ac40a"/><polygon points="385,83.94 380.4,92.04 389.6,92.04" fill="#0ac40a"/><polygon points="387.78,82.69 383.18,90.79 392.38,90.79" fill="#0ac40a"/><polygon points="390.44,81.48 385.84,89.58 395.04,89.58" fill="#0ac40a"/><polygon points="393,80.32 388.4,88.42 397.6,88.42" fill="#0ac40a"/><polygon points="395.47,79.2 390.87,87.3 400.07,87.3" fill="#0ac40a"/><polygon points="397.86,78.12 393.26,86.22 402.46,86.22" fill="#0ac40a"/><polygon points="400.18,77.09 395.58,85.19 404.78,85.19" fill="#0ac40a"/><polygon points="402.43,76.24 397.83,84.34 407.03,84.34" fill="#0ac40a"/><polygon points="404.62,75.42 400.02,83.52 409.22,83.52" fill="#0ac40a"/><polygon points="406.75,74.63 402.15,82.73 411.35,82.73" fill="#0ac40a"/><polygon points="408.82,73.85 404.22,81.95 413.42,81.95" fill="#0ac40a"/><polygon points="410.85,73.09 406.25,81.19 415.45,81.19" fill="#0ac40a"/><polygon points="412.84,72.35 408.24,80.45 417.44,80.45" fill="#0ac40a"/><polygon points="414.78,71.62 410.18,79.72 419.38,79.72" fill="#0ac40a"/><polygon points="416.68,70.91 412.08,79.01 421.28,79.01" fill="#0ac40a"/><polygon points="418.54,70.21 413.94,78.31 423.14,78.31" fill="#0ac40a"/><polygon points="420.37,69.53 415.77,77.63 424.97,77.63" fill="#0ac40a"/><polygon points="422.16,68.86 417.56,76.96 426.76,76.96" fill="#0ac40a"/><polygon points="423.92,68.2 419.32,76.3 428.52,76.3" fill="#0ac40a"/><polygon points="425.66,67.55 421.06,75.65 430.26,75.65" fill="#0ac40a"/><polygon points="427.36,66.91 422.76,75.01 431.96,75.01" fill="#0ac40a"/><polygon points="429.04,66.04 424.44,74.14 433.64,74.14" fill="#0ac40a"/><polygon points="430.69,65.03 426.09,73.13 435.29,73.13" fill="#0ac40a"/><polygon points="432.31,64.04 427.71,72.14 436.91,72.14" fill="#0ac40a"/><polygon points="433.91,63.06 429.31,71.16 438.51,71.16" fill="#0ac40a"/><polygon points="435.49,62.1 430.89,70.2 440.09,70.2" fill="#0ac40a"/><polygon points="437.05,61.15 432.45,69.25 441.65,69.25" fill="#0ac40a"/><polygon points="438.59,60.16 433.99,68.26 443.19,68.26" fill="#0ac40a"/><polygon points="440.1,59.11 435.5,67.21 444.7,67.21" fill="#0ac40a"/><polygon points="441.6,58.07 437,66.17 446.2,66.17" fill="#0ac40a"/><polygon points="443.08,57.04 438.48,65.14 447.68,65.14" fill="#0ac40a"/><polygon points="444.54,56.02 439.94,64.12 449.14,64.12" fill="#0ac40a"/><polygon points="445.98,55.23 441.38,63.33 450.58,63.33" fill="#0ac40a"/><polygon points="447.41,54.56 442.81,62.66 452.01,62.66" fill="#0ac40a"/><polygon points="448.82,53.89 444.22,61.99 453.42,61.99" fill="#0ac40a"/><polygon points="450.21,53.22 445.61,61.32 454.81,61.32" fill="#0ac40a"/><polygon points="451.59,52.57 446.99,60.67 456.19,60.67" fill="#0ac40a"/><polygon points="452.96,51.94 448.36,60.04 457.56,60.04" fill="#0ac40a"/><polygon points="452.7,52.05 448.1,60.15 457.3,60.15" fill="#0ac40a"/><polygon points="452.7,12.95 448.1,21.05 457.3,21.05" fill="#0ac40a"/><polygon points="454.2,12.95 449.6,21.05 458.8,21.05" fill="#0ac40a"/><polygon points="455.7,12.95 451.1,21.05 460.3,21.05" fill="#0ac40a"/><polygon points="457.2,12.95 452.6,21.05 461.8,21.05" fill="#0ac40a"/><polygon points="458.7,12.95 454.1,21.05 463.3,21.05" fill="#0ac40a"/><polygon points="460.2,12.95 455.6,21.05 464.8,21.05" fill="#0ac40a"/><polygon points="461.7,12.95 457.1,21.05 466.3,21.05" fill="#0ac40a"/><polygon points="463.2,12.95 458.6,21.05 467.8,21.05" fill="#0ac40a"/><polygon points="464.7,12.95 460.1,21.05 469.3,21.05" fill="#0ac40a"/><polygon points="466.2,12.95 461.6,21.05 470.8,21.05" fill="#0ac40a"/><polygon points="467.7,12.95 463.1,21.05 472.3,21.05" fill="#0ac40a"/><polygon points="469.2,12.95 464.6,21.05 473.8,21.05" fill="#0ac40a"/><polygon points="470.7,12.95 466.1,21.05 475.3,21.05" fill="#0ac40a"/><polygon points="472.2,12.95 467.6,21.05 476.8,21.05" fill="#0ac40a"/><polygon points="473.7,12.95 469.1,21.05 478.3,21.05" fill="#0ac40a"/><polygon points="475.2,12.95 470.6,21.05 479.8,21.05" fill="#0ac40a"/><polygon points="476.7,12.95 472.1,21.05 481.3,21.05" fill="#0ac40a"/><polygon points="477.5,12.95 472.9,21.05 482.1,21.05" fill="#0ac40a"/></g>
<line x1="322.2" y1="115.1" x2="484" y2="48.8" stroke="#000" stroke-width="2" />
<rect x="304.6" y="1.6" width="181.7" height="168.7" fill="none" stroke="#000" stroke-width="2"/>
<line x1="322.6" y1="170.3" x2="322.6" y2="163.3" stroke="#000" stroke-width="1.6" />
<line x1="322.6" y1="1.6" x2="322.6" y2="8.6" stroke="#000" stroke-width="1.6" />
<line x1="382.1" y1="170.3" x2="382.1" y2="163.3" stroke="#000" stroke-width="1.6" />
<line x1="382.1" y1="1.6" x2="382.1" y2="8.6" stroke="#000" stroke-width="1.6" />
<line x1="441.6" y1="170.3" x2="441.6" y2="163.3" stroke="#000" stroke-width="1.6" />
<line x1="441.6" y1="1.6" x2="441.6" y2="8.6" stroke="#000" stroke-width="1.6" />
<line x1="352.35" y1="170.3" x2="352.35" y2="166.3" stroke="#000" stroke-width="1.6" />
<line x1="352.35" y1="1.6" x2="352.35" y2="5.6" stroke="#000" stroke-width="1.6" />
<line x1="411.85" y1="170.3" x2="411.85" y2="166.3" stroke="#000" stroke-width="1.6" />
<line x1="411.85" y1="1.6" x2="411.85" y2="5.6" stroke="#000" stroke-width="1.6" />
<line x1="471.35" y1="170.3" x2="471.35" y2="166.3" stroke="#000" stroke-width="1.6" />
<line x1="471.35" y1="1.6" x2="471.35" y2="5.6" stroke="#000" stroke-width="1.6" />
<line x1="304.6" y1="12" x2="311.6" y2="12" stroke="#000" stroke-width="1.6" />
<line x1="486.3" y1="12" x2="479.3" y2="12" stroke="#000" stroke-width="1.6" />
<line x1="304.6" y1="55.4" x2="311.6" y2="55.4" stroke="#000" stroke-width="1.6" />
<line x1="486.3" y1="55.4" x2="479.3" y2="55.4" stroke="#000" stroke-width="1.6" />
<line x1="304.6" y1="98.8" x2="311.6" y2="98.8" stroke="#000" stroke-width="1.6" />
<line x1="486.3" y1="98.8" x2="479.3" y2="98.8" stroke="#000" stroke-width="1.6" />
<line x1="304.6" y1="142.2" x2="311.6" y2="142.2" stroke="#000" stroke-width="1.6" />
<line x1="486.3" y1="142.2" x2="479.3" y2="142.2" stroke="#000" stroke-width="1.6" />
<line x1="304.6" y1="163.9" x2="308.6" y2="163.9" stroke="#000" stroke-width="1.6" />
<line x1="486.3" y1="163.9" x2="482.3" y2="163.9" stroke="#000" stroke-width="1.6" />
<line x1="304.6" y1="153.05" x2="308.6" y2="153.05" stroke="#000" stroke-width="1.6" />
<line x1="486.3" y1="153.05" x2="482.3" y2="153.05" stroke="#000" stroke-width="1.6" />
<line x1="304.6" y1="131.35" x2="308.6" y2="131.35" stroke="#000" stroke-width="1.6" />
<line x1="486.3" y1="131.35" x2="482.3" y2="131.35" stroke="#000" stroke-width="1.6" />
<line x1="304.6" y1="120.5" x2="308.6" y2="120.5" stroke="#000" stroke-width="1.6" />
<line x1="486.3" y1="120.5" x2="482.3" y2="120.5" stroke="#000" stroke-width="1.6" />
<line x1="304.6" y1="109.65" x2="308.6" y2="109.65" stroke="#000" stroke-width="1.6" />
<line x1="486.3" y1="109.65" x2="482.3" y2="109.65" stroke="#000" stroke-width="1.6" />
<line x1="304.6" y1="87.95" x2="308.6" y2="87.95" stroke="#000" stroke-width="1.6" />
<line x1="486.3" y1="87.95" x2="482.3" y2="87.95" stroke="#000" stroke-width="1.6" />
<line x1="304.6" y1="77.1" x2="308.6" y2="77.1" stroke="#000" stroke-width="1.6" />
<line x1="486.3" y1="77.1" x2="482.3" y2="77.1" stroke="#000" stroke-width="1.6" />
<line x1="304.6" y1="66.25" x2="308.6" y2="66.25" stroke="#000" stroke-width="1.6" />
<line x1="486.3" y1="66.25" x2="482.3" y2="66.25" stroke="#000" stroke-width="1.6" />
<line x1="304.6" y1="44.55" x2="308.6" y2="44.55" stroke="#000" stroke-width="1.6" />
<line x1="486.3" y1="44.55" x2="482.3" y2="44.55" stroke="#000" stroke-width="1.6" />
<line x1="304.6" y1="33.7" x2="308.6" y2="33.7" stroke="#000" stroke-width="1.6" />
<line x1="486.3" y1="33.7" x2="482.3" y2="33.7" stroke="#000" stroke-width="1.6" />
<line x1="304.6" y1="22.85" x2="308.6" y2="22.85" stroke="#000" stroke-width="1.6" />
<line x1="486.3" y1="22.85" x2="482.3" y2="22.85" stroke="#000" stroke-width="1.6" />
<text x="247" y="14.2" font-size="18.5" text-anchor="start" font-weight="bold" style="stroke-width:0.2px">(b)</text>
<text x="304.4" y="17.8" font-size="17.3" text-anchor="end" >-<tspan font-family="NanumGothic, &quot;Liberation Sans&quot;, sans-serif" dx="-0.6" letter-spacing="-0.26">1</tspan>6</text>
<text x="304.4" y="61.2" font-size="17.3" text-anchor="end" >-20</text>
<text x="304.4" y="104.6" font-size="17.3" text-anchor="end" >-24</text>
<text x="304.4" y="148" font-size="17.3" text-anchor="end" >-28</text>
<text x="322" y="187" font-size="17.3" text-anchor="middle" >0.0</text>
<text x="381.5" y="187" font-size="17.3" text-anchor="middle" >0.5</text>
<text x="441" y="187" font-size="17.3" text-anchor="middle" ><tspan font-family="NanumGothic, &quot;Liberation Sans&quot;, sans-serif" dx="-0.6" letter-spacing="-0.26">1</tspan>.0</text>
<text x="332.3" y="205.4" font-size="17.3" letter-spacing="0.2">(Voltage)</text>
<text x="403.8" y="198" font-size="10" text-anchor="start" font-weight="bold" style="stroke-width:0.15px">1/2</text>
<text x="421.6" y="205.4" font-size="17.3" text-anchor="start" >(</text>
<text x="425.6" y="205.4" font-size="17.3" text-anchor="start" >V</text>
<text x="438.8" y="197.5" font-size="10" text-anchor="start" font-weight="bold" style="stroke-width:0.15px">1/2</text>
<text x="453.6" y="205.4" font-size="17.3" text-anchor="start" >)</text>
<text transform="translate(274.8,85.3) rotate(-90)" font-size="17.3" text-anchor="middle">ln [I/T<tspan font-size="10" dy="-7">2</tspan><tspan dy="7"> (A/K</tspan><tspan font-size="10" dy="-7">2</tspan><tspan dy="7">)]</tspan></text>
<rect x="333.5" y="9.8" width="46.3" height="20.6" fill="none" stroke="#000" stroke-width="1.6"/>
<text x="337.4" y="26.3" font-size="17.5" text-anchor="start" >HRS</text>
<text x="334.3" y="57.5" font-size="17.3" text-anchor="start" >ln</text>
<text x="350.3" y="57.5" font-size="17.3" letter-spacing="-0.5">(I/T</text>
<text x="375.3" y="50.2" font-size="11" text-anchor="start" >2</text>
<text x="382.6" y="57.5" font-size="17.3" text-anchor="start" >)</text>
<text transform="translate(390,59.6) scale(1.25,1)" font-family="DejaVu Sans, sans-serif" font-size="19">∝</text>
<text x="407" y="57.5" font-size="17.3" text-anchor="start" >V</text>
<text x="419" y="49.6" font-size="10" text-anchor="start" font-weight="bold" style="stroke-width:0.15px">1/2</text>
<line x1="382.6" y1="109.6" x2="422.9" y2="109.6" stroke="#000" stroke-width="3.2" />
<rect x="398.4" y="106.1" width="7" height="7" fill="#000"/>
<text x="479.2" y="115.2" font-size="17.3" text-anchor="end" >25 °C</text>
<line x1="382.6" y1="130.6" x2="422.9" y2="130.6" stroke="#f20a0a" stroke-width="3.2" />
<circle cx="401.9" cy="130.6" r="3.8" fill="#f20a0a"/>
<text x="479.2" y="136.2" font-size="17.3" text-anchor="end" >85 °C</text>
<line x1="382.6" y1="152.6" x2="422.9" y2="152.6" stroke="#0ac40a" stroke-width="3.2" />
<polygon points="401.9,147.8 397.8,155 406,155" fill="#0ac40a"/>
<text x="479.2" y="158.7" font-size="17.3" text-anchor="end" ><tspan font-family="NanumGothic, &quot;Liberation Sans&quot;, sans-serif" dx="-0.6" letter-spacing="-0.26">1</tspan>25 °C</text>
<line x1="183.3" y1="270.6" x2="183.3" y2="422.4" stroke="#a8a8a8" stroke-width="1.2" stroke-dasharray="3.3 2.5"/>
<line x1="312.4" y1="270.6" x2="312.4" y2="422.4" stroke="#a8a8a8" stroke-width="1.2" stroke-dasharray="3.3 2.5"/>
<line x1="118.2" y1="332.5" x2="118.2" y2="362" stroke="#000" stroke-width="2" />
<line x1="118.2" y1="368" x2="118.2" y2="392.7" stroke="#000" stroke-width="2" />
<line x1="109.6" y1="332.5" x2="126.8" y2="332.5" stroke="#000" stroke-width="2" />
<line x1="109.6" y1="392.7" x2="126.8" y2="392.7" stroke="#000" stroke-width="2" />
<rect x="102.9" y="362" width="30.6" height="6" fill="none" stroke="#000" stroke-width="2"/>
<line x1="102.9" y1="364" x2="133.5" y2="364" stroke="#000" stroke-width="2" />
<line x1="247.6" y1="306.8" x2="247.6" y2="316.8" stroke="#e0061a" stroke-width="2" />
<line x1="247.6" y1="325.1" x2="247.6" y2="334.4" stroke="#e0061a" stroke-width="2" />
<line x1="239" y1="306.8" x2="256.2" y2="306.8" stroke="#e0061a" stroke-width="2" />
<line x1="239" y1="334.4" x2="256.2" y2="334.4" stroke="#e0061a" stroke-width="2" />
<rect x="232.3" y="316.8" width="30.6" height="8.3" fill="none" stroke="#e0061a" stroke-width="2"/>
<line x1="232.3" y1="321" x2="262.9" y2="321" stroke="#e0061a" stroke-width="2" />
<line x1="376.9" y1="274.5" x2="376.9" y2="287.6" stroke="#10c010" stroke-width="2" />
<line x1="376.9" y1="295.1" x2="376.9" y2="304.1" stroke="#10c010" stroke-width="2" />
<line x1="368.3" y1="274.5" x2="385.5" y2="274.5" stroke="#10c010" stroke-width="2" />
<line x1="368.3" y1="304.1" x2="385.5" y2="304.1" stroke="#10c010" stroke-width="2" />
<rect x="361.6" y="287.6" width="30.6" height="7.5" fill="none" stroke="#10c010" stroke-width="2"/>
<line x1="361.6" y1="291.6" x2="392.2" y2="291.6" stroke="#10c010" stroke-width="2" />
<rect x="54.1" y="268.6" width="387" height="154.8" fill="none" stroke="#000" stroke-width="1.7"/>
<line x1="54.1" y1="412.3" x2="61.1" y2="412.3" stroke="#000" stroke-width="1.6" />
<line x1="441.1" y1="412.3" x2="434.1" y2="412.3" stroke="#000" stroke-width="1.6" />
<line x1="54.1" y1="368.1" x2="61.1" y2="368.1" stroke="#000" stroke-width="1.6" />
<line x1="441.1" y1="368.1" x2="434.1" y2="368.1" stroke="#000" stroke-width="1.6" />
<line x1="54.1" y1="323.9" x2="61.1" y2="323.9" stroke="#000" stroke-width="1.6" />
<line x1="441.1" y1="323.9" x2="434.1" y2="323.9" stroke="#000" stroke-width="1.6" />
<line x1="54.1" y1="279.7" x2="61.1" y2="279.7" stroke="#000" stroke-width="1.6" />
<line x1="441.1" y1="279.7" x2="434.1" y2="279.7" stroke="#000" stroke-width="1.6" />
<line x1="54.1" y1="390.2" x2="58.1" y2="390.2" stroke="#000" stroke-width="1.6" />
<line x1="441.1" y1="390.2" x2="437.1" y2="390.2" stroke="#000" stroke-width="1.6" />
<line x1="54.1" y1="346" x2="58.1" y2="346" stroke="#000" stroke-width="1.6" />
<line x1="441.1" y1="346" x2="437.1" y2="346" stroke="#000" stroke-width="1.6" />
<line x1="54.1" y1="301.8" x2="58.1" y2="301.8" stroke="#000" stroke-width="1.6" />
<line x1="441.1" y1="301.8" x2="437.1" y2="301.8" stroke="#000" stroke-width="1.6" />
<text x="-0.2" y="257.2" font-size="19.5" text-anchor="start" font-weight="bold" style="stroke-width:0.2px">(c)</text>
<text x="51" y="417.2" font-size="17.3" text-anchor="end" >0.8</text>
<text x="51" y="373" font-size="17.3" text-anchor="end" ><tspan font-family="NanumGothic, &quot;Liberation Sans&quot;, sans-serif" dx="-0.6" letter-spacing="-0.26">1</tspan>.0</text>
<text x="51" y="328.8" font-size="17.3" text-anchor="end" ><tspan font-family="NanumGothic, &quot;Liberation Sans&quot;, sans-serif" dx="-0.6" letter-spacing="-0.26">1</tspan>.2</text>
<text x="51" y="284.6" font-size="17.3" text-anchor="end" ><tspan font-family="NanumGothic, &quot;Liberation Sans&quot;, sans-serif" dx="-0.6" letter-spacing="-0.26">1</tspan>.4</text>
<text x="247.5" y="246" font-size="17.3" text-anchor="middle" >Temperature (°C)</text>
<text x="118.2" y="265" font-size="17.3" text-anchor="middle" >25</text>
<text x="247.6" y="265" font-size="17.3" text-anchor="middle" >85</text>
<text x="376.9" y="265" font-size="17.3" text-anchor="middle" ><tspan font-family="NanumGothic, &quot;Liberation Sans&quot;, sans-serif" dx="-0.6" letter-spacing="-0.26">1</tspan>25</text>
<text x="118.2" y="442.5" font-size="17.3" text-anchor="middle" >298</text>
<text x="247.6" y="442.5" font-size="17.3" text-anchor="middle" >358</text>
<text x="376.9" y="442.5" font-size="17.3" text-anchor="middle" >398</text>
<text x="248.1" y="459.5" font-size="17.3" text-anchor="middle" >Temperature (K)</text>
<text transform="translate(21.6,353.2) rotate(-90)" font-size="17.3" text-anchor="middle">Barrier height (eV)</text>
<text x="59" y="414.8" font-family='"Liberation Serif", "Times New Roman", serif' font-size="17.3">&lt;</text>
<text x="69.4" y="415" font-family='"Liberation Serif", "Times New Roman", serif' font-size="16.5">Φ</text>
<text x="81.9" y="419.5" font-family='"Liberation Serif", "Times New Roman", serif' font-size="9.6">B</text>
<text x="89" y="414.8" font-family='"Liberation Serif", "Times New Roman", serif' font-size="17.3">&gt;</text>
<text x="102.75" y="414.6" font-size="17.3">=</text>
<text x="119.8" y="414.2" font-size="17.3"><tspan font-family="NanumGothic, &quot;Liberation Sans&quot;, sans-serif" dx="-0.6" letter-spacing="-0.26">1</tspan>.02 eV</text>
<text x="186.4" y="361.1" font-family='"Liberation Serif", "Times New Roman", serif' font-size="17.3" fill="#cf0c26" style="stroke:#cf0c26">&lt;</text>
<text x="198.2" y="361.3" font-family='"Liberation Serif", "Times New Roman", serif' font-size="16.5" fill="#cf0c26" style="stroke:#cf0c26">Φ</text>
<text x="211" y="365.8" font-family='"Liberation Serif", "Times New Roman", serif' font-size="9.6" fill="#cf0c26" style="stroke:#cf0c26">B</text>
<text x="217.4" y="361.1" font-family='"Liberation Serif", "Times New Roman", serif' font-size="17.3" fill="#cf0c26" style="stroke:#cf0c26">&gt;</text>
<text x="230.1" y="360.9" font-size="17.3" fill="#cf0c26" style="stroke:#cf0c26">=</text>
<text x="247.5" y="360.5" font-size="17.3" fill="#cf0c26" style="stroke:#cf0c26"><tspan font-family="NanumGothic, &quot;Liberation Sans&quot;, sans-serif" dx="-0.6" letter-spacing="-0.26">1</tspan>.22 eV</text>
<text x="313.4" y="327.3" font-family='"Liberation Serif", "Times New Roman", serif' font-size="17.3" fill="#18b022" style="stroke:#18b022">&lt;</text>
<text x="324.5" y="327.5" font-family='"Liberation Serif", "Times New Roman", serif' font-size="16.5" fill="#18b022" style="stroke:#18b022">Φ</text>
<text x="337.3" y="332" font-family='"Liberation Serif", "Times New Roman", serif' font-size="9.6" fill="#18b022" style="stroke:#18b022">B</text>
<text x="343.7" y="327.3" font-family='"Liberation Serif", "Times New Roman", serif' font-size="17.3" fill="#18b022" style="stroke:#18b022">&gt;</text>
<text x="357.8" y="327.1" font-size="17.3" fill="#18b022" style="stroke:#18b022">=</text>
<text x="373.8" y="326.7" font-size="17.3" fill="#18b022" style="stroke:#18b022"><tspan font-family="NanumGothic, &quot;Liberation Sans&quot;, sans-serif" dx="-0.6" letter-spacing="-0.26">1</tspan>.35 eV</text>
<rect x="448" y="280.4" width="70.5" height="130.3" rx="6" fill="none" stroke="#2a2a2a" stroke-width="1.6"/>
<line x1="460.2" y1="289.5" x2="460.2" y2="327.5" stroke="#666" stroke-width="1.6" />
<line x1="460.2" y1="365.6" x2="460.2" y2="401" stroke="#666" stroke-width="1.6" />
<line x1="457" y1="289.5" x2="463.4" y2="289.5" stroke="#666" stroke-width="1.6" />
<line x1="457" y1="401" x2="463.4" y2="401" stroke="#666" stroke-width="1.6" />
<rect x="455" y="327.5" width="10.8" height="38.1" fill="none" stroke="#666" stroke-width="1.6"/>
<line x1="455" y1="346" x2="465.8" y2="346" stroke="#666" stroke-width="1.6" />
<text x="472.8" y="294.6" font-size="16.6" text-anchor="start" >max.</text>
<text x="472.8" y="332.5" font-size="16.6" text-anchor="start" >75%</text>
<text x="472.8" y="350.6" font-size="16.6" text-anchor="start" >mean</text>
<text x="472.8" y="371.4" font-size="16.6" text-anchor="start" >25%</text>
<text x="472.8" y="404.9" font-size="16.6" text-anchor="start" >min.</text>
</svg></body></html>
